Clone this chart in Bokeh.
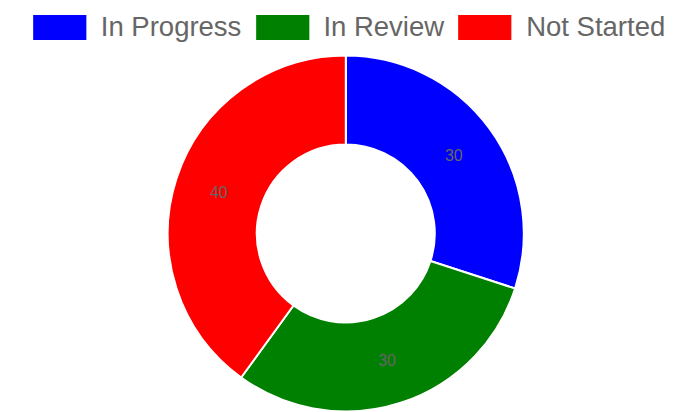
import math
from bokeh.plotting import figure
from bokeh.models import ColumnDataSource, Range1d, Legend, LegendItem
from bokeh.core.properties import value
from bokeh.embed import file_html
from bokeh.resources import INLINE

categories = ["In Progress", "In Review", "Not Started"]
counts = [30, 30, 40]
colors = ["#0000ff", "#008000", "#ff0000"]

W, H = 690, 412
OUTER, INNER = 178, 89

total = sum(counts)
starts, ends, lx, ly, labels = [], [], [], [], []
cum = 0
for c in counts:
    a0 = math.pi / 2 - 2 * math.pi * cum / total
    cum += c
    a1 = math.pi / 2 - 2 * math.pi * cum / total
    starts.append(a0)
    ends.append(a1)
    mid = (a0 + a1) / 2
    r = (OUTER + INNER) / 2
    lx.append(r * math.cos(mid))
    ly.append(r * math.sin(mid))
    labels.append(str(c))

src = ColumnDataSource(dict(cat=categories, val=counts, color=colors,
                            start=starts, end=ends, lx=lx, ly=ly, label=labels))

p = figure(width=W, height=H, output_backend="svg", toolbar_location=None,
           x_range=Range1d(-345.3, 344.7), y_range=Range1d(-179, 233),
           min_border=0, outline_line_color=None)
p.axis.visible = False
p.grid.visible = False
p.background_fill_color = "white"
p.border_fill_color = "white"

rends = []
for i in range(len(categories)):
    r = p.annular_wedge(x=0, y=0, inner_radius=INNER, outer_radius=OUTER,
                        start_angle=starts[i], end_angle=ends[i], direction="clock",
                        fill_color=colors[i], line_color="white", line_width=2)
    rends.append(r)

p.text(x="lx", y="ly", text="label", source=src, text_align="center",
       text_baseline="middle", text_color="#666666", text_font_size="16px",
       text_font=value("Liberation Sans"))

legend = Legend(items=[LegendItem(label=categories[i], renderers=[rends[i]]) for i in range(len(categories))],
                orientation="horizontal", location="top_center",
                glyph_width=69, glyph_height=34, label_standoff=7, spacing=6,
                padding=0, margin=10, border_line_alpha=0, background_fill_alpha=0,
                label_text_font_size="27.5px", label_text_color="#666666",
                label_text_font="Liberation Sans")
p.add_layout(legend, "center")

open("out.html", "w").write(file_html(p, INLINE))
